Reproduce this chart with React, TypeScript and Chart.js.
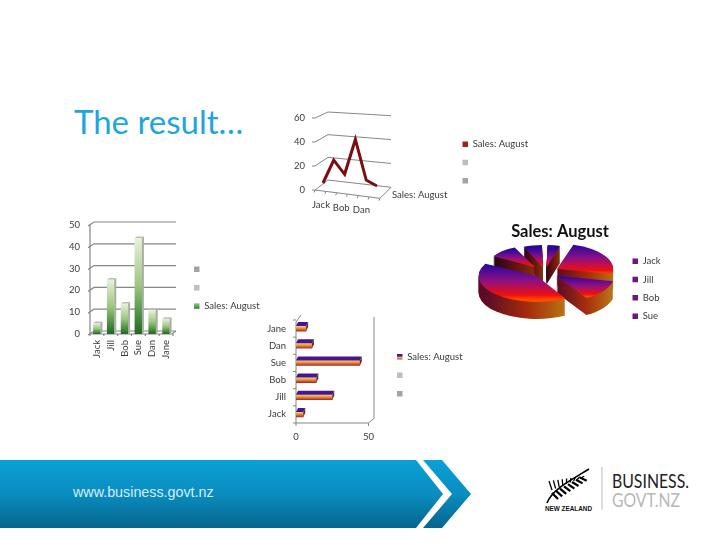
import { useEffect, useRef } from "react"
import { Chart, registerables } from "chart.js"

Chart.register(...registerables)

const PAGE_W = 728
const PAGE_H = 546
const AXIS = 40

// data
const categories = ["Jack", "Jill", "Bob", "Sue", "Dan", "Jane"]
const salesAugust = [5, 25, 14, 44, 11, 7]
const seriesName = "Sales: August"
const pieLegendCount = 4
const pieOffsets = [40, 56, 56, 48, 60, 40]
const pieBackTrim = [9, 3, 1, 1, 11, 9]
const lineTicks = { max: 60, step: 20 }
const columnTicks = { max: 50, step: 10 }
const barTicks = { max: 50, step: 50 }

const FONT = "Lato"
const TEXT = "#3a3a3a"
const FRAME = "#868686"
const GREY_LIGHT = "#bdbdbd"
const GREY_DARK = "#a3a3a3"

const tickFont = { family: FONT, size: 9.5 }

// chart area given in page coordinates, every canvas covers the whole page.
// the axes keep a fixed size so the area lands exactly there
const area = (
  left: number,
  top: number,
  right: number,
  bottom: number,
  axisLeft = true,
  axisBottom = true
) => ({
  left: left - (axisLeft ? AXIS : 0),
  top,
  right: PAGE_W - right,
  bottom: PAGE_H - bottom - (axisBottom ? AXIS : 0),
})

const fixWidth = (s: any) => {
  s.width = AXIS
}
const fixHeight = (s: any) => {
  s.height = AXIS
}

const hiddenLines = {
  grid: { display: false, drawTicks: false },
  border: { display: false },
}

// legend sits at a fixed spot on the page instead of eating the chart area
const legendAt = (x: number, y: number) => ({
  id: "legendAt",
  afterLayout(chart: any) {
    const l = chart.legend
    const pad = l.options.labels.padding
    l.left = x - pad
    l.top = y - pad
    l.right = x + 150
    l.bottom = y + 150
    l.width = l.right - l.left
    l.height = l.bottom - l.top
  },
})

const legendOptions = (padding: number, extra: any = {}) => ({
  position: "chartArea" as const,
  align: "start" as const,
  ...extra,
  labels: {
    boxWidth: 5.5,
    boxHeight: 5.5,
    padding,
    color: TEXT,
    font: tickFont,
    ...(extra.labels || {}),
  },
})

// legend entries from the library, the first one with its own swatch fill
const swatchLabels = (swatch: (ctx: any) => any) => (chart: any) =>
  Chart.defaults.plugins.legend.labels
    .generateLabels(chart)
    .map((item: any) =>
      item.datasetIndex === 0 ? { ...item, fillStyle: swatch(chart.ctx), lineWidth: 0 } : { ...item, lineWidth: 0 }
    )

const line = (ctx: any, pts: number[][]) => {
  ctx.beginPath()
  pts.forEach((p, i) => (i ? ctx.lineTo(p[0], p[1]) : ctx.moveTo(p[0], p[1])))
  ctx.stroke()
}

const quad = (ctx: any, pts: number[][], fill: any) => {
  ctx.fillStyle = fill
  ctx.beginPath()
  pts.forEach((p, i) => (i ? ctx.lineTo(p[0], p[1]) : ctx.moveTo(p[0], p[1])))
  ctx.closePath()
  ctx.fill()
}

const gradient = (ctx: any, top: number, bottom: number, stops: [number, string][]) => {
  const g = ctx.createLinearGradient(0, top, 0, bottom)
  stops.forEach(([at, col]) => g.addColorStop(at, col))
  return g
}

/* ---------- line chart ---------- */

const LINE_SHEAR = 0.1

const lineFrame = {
  id: "lineFrame",
  beforeDatasetsDraw(chart: any) {
    const { ctx, scales, chartArea } = chart
    const { x, y } = scales
    ctx.save()
    ctx.strokeStyle = FRAME
    ctx.lineWidth = 1
    y.ticks.forEach((t: any) => {
      const py = y.getPixelForValue(t.value)
      const k = (py - chartArea.top) / chartArea.height
      const back = py - 6 - 4 * k
      const right = back + 3.7 + 3.6 * k
      line(ctx, [[312, py], [315, py], [328, back], [391, right]])
    })
    const floor = y.getPixelForValue(0)
    line(ctx, [[391, floor - 2.7], [380, floor + 8.3], [315, floor]])
    for (let i = 0; i <= categories.length; i++) {
      const tx = 315 + (i * 65) / categories.length
      const ty = floor + (i * 8.3) / categories.length
      line(ctx, [[tx, ty], [tx - 1, ty + 2.5]])
    }
    ctx.fillStyle = TEXT
    ctx.font = `9.5px ${FONT}`
    ctx.textAlign = "center"
    ctx.textBaseline = "middle"
    categories.forEach((c, i) => {
      if (i % 2) return
      ctx.fillText(c, x.getPixelForValue(i) - 2 - i * 0.7, 205 + i * 1.25)
    })
    ctx.textAlign = "left"
    ctx.fillText(seriesName, 392, 195)
    ctx.restore()

    // points run along the slanted floor
    ctx.save()
    ctx.transform(1, LINE_SHEAR, 0, 1, 0, -LINE_SHEAR * chartArea.left - 1)
  },
  afterDatasetsDraw(chart: any) {
    chart.ctx.restore()
  },
}

const lineConfig = {
  type: "line",
  data: {
    labels: categories,
    datasets: [
      {
        label: seriesName,
        data: salesAugust,
        borderColor: "#7a0d13",
        backgroundColor: "#ad1b1e",
        borderWidth: 3,
        pointRadius: 0,
        tension: 0,
        clip: false,
      },
      { label: "", data: [], backgroundColor: GREY_LIGHT, borderWidth: 0 },
      { label: "", data: [], backgroundColor: GREY_DARK, borderWidth: 0 },
    ],
  },
  options: {
    layout: { padding: area(323, 118, 377, 190, true, false) },
    scales: {
      x: { display: false },
      y: {
        min: 0,
        max: lineTicks.max,
        afterFit: fixWidth,
        ...hiddenLines,
        ticks: { stepSize: lineTicks.step, padding: 18, font: tickFont, color: TEXT },
      },
    },
    plugins: {
      legend: legendOptions(8.7, {
        labels: { generateLabels: swatchLabels(() => "#ad1b1e") },
      }),
    },
  },
  plugins: [lineFrame, legendAt(462.5, 139.5)],
}

/* ---------- column chart ---------- */

const COLUMN_DX = 4
const COLUMN_DY = -3

const columnFill = (c: any) => {
  const scale = c.chart.scales?.y
  if (c.type === "data" && scale && c.parsed) {
    const t = scale.getPixelForValue(c.parsed.y)
    const b = scale.getPixelForValue(0)
    if (Number.isFinite(t) && Number.isFinite(b)) {
      return gradient(c.chart.ctx, t, b, [[0, "#eaf1de"], [0.5, "#9cc57f"], [1, "#1c6b20"]])
    }
  }
  return "#6f9f5c"
}

const columnFrame = {
  id: "columnFrame",
  beforeDatasetsDraw(chart: any) {
    const { ctx, scales, chartArea } = chart
    const { y } = scales
    const { left, right, bottom } = chartArea
    ctx.save()
    ctx.strokeStyle = FRAME
    ctx.lineWidth = 1.2
    y.ticks.forEach((t: any) => {
      const py = y.getPixelForValue(t.value)
      line(ctx, [[left - 2, py + 1], [left + COLUMN_DX, py + COLUMN_DY], [right + 3, py + COLUMN_DY]])
    })
    line(ctx, [[left, chartArea.top], [left, bottom]])
    line(ctx, [[right + 3, bottom + COLUMN_DY], [right - 1, bottom], [left, bottom]])
    const step = (right - left) / categories.length
    for (let i = 0; i <= categories.length; i++) {
      line(ctx, [[left + i * step, bottom], [left + i * step, bottom + 2]])
    }
    ctx.restore()
  },
  afterDatasetsDraw(chart: any) {
    const { ctx } = chart
    ctx.save()
    chart.getDatasetMeta(0).data.forEach((bar: any) => {
      const r = bar.x + bar.width / 2
      const l = bar.x - bar.width / 2
      quad(ctx, [[r, bar.y], [r + 2, bar.y - 1.5], [r + 2, bar.base - 1.5], [r, bar.base]], "#a8b0a2")
      quad(ctx, [[l, bar.y], [l + 2, bar.y - 1.5], [r + 2, bar.y - 1.5], [r, bar.y]], "#b9bdb3")
    })
    ctx.restore()
  },
}

const columnConfig = {
  type: "bar",
  data: {
    labels: categories,
    datasets: [
      {
        label: seriesName,
        data: salesAugust,
        backgroundColor: columnFill,
        borderWidth: 0,
        barThickness: 7,
        grouped: false,
      },
      { label: "", data: [], backgroundColor: GREY_LIGHT, borderWidth: 0, grouped: false },
      { label: "", data: [], backgroundColor: GREY_DARK, borderWidth: 0, grouped: false },
    ],
  },
  options: {
    layout: { padding: area(90, 225, 173, 334) },
    scales: {
      x: {
        afterFit: fixHeight,
        ...hiddenLines,
        ticks: {
          autoSkip: false,
          minRotation: 90,
          maxRotation: 90,
          padding: 6,
          font: tickFont,
          color: TEXT,
        },
      },
      y: {
        min: 0,
        max: columnTicks.max,
        afterFit: fixWidth,
        ...hiddenLines,
        ticks: { stepSize: columnTicks.step, padding: 10, font: tickFont, color: TEXT },
      },
    },
    plugins: {
      legend: legendOptions(8.9, {
        reverse: true,
        labels: {
          generateLabels: swatchLabels((ctx) =>
            gradient(ctx, 303, 309, [[0, "#a9cb90"], [1, "#2a7a2a"]])
          ),
        },
      }),
    },
  },
  plugins: [columnFrame, legendAt(194, 264.5)],
}

/* ---------- horizontal bar chart ---------- */

const barFill = (c: any) => {
  const scale = c.chart.scales?.y
  if (c.type === "data" && scale) {
    const m = scale.getPixelForValue(c.dataIndex)
    if (Number.isFinite(m)) {
      return gradient(c.chart.ctx, m - 2.5, m + 2.5, [[0, "#f6d27a"], [0.5, "#e08a35"], [1, "#b5281f"]])
    }
  }
  return "#e08a35"
}

const barFrame = {
  id: "barFrame",
  beforeDatasetsDraw(chart: any) {
    const { ctx, chartArea } = chart
    const { left, right, bottom, top } = chartArea
    ctx.save()
    ctx.strokeStyle = FRAME
    ctx.lineWidth = 1
    line(ctx, [[left + 5, top - 5], [left, top + 2], [left, bottom], [right, bottom], [right + 5.5, bottom - 4.5], [right + 5.5, top - 3]])
    const step = (bottom - top) / categories.length
    for (let i = 0; i <= categories.length; i++) {
      const py = top + i * step
      line(ctx, [[left - 3, py], [left, py]])
    }
    line(ctx, [[left, bottom], [left, bottom + 3]])
    line(ctx, [[right, bottom], [right, bottom + 3]])
    ctx.restore()
  },
  afterDatasetsDraw(chart: any) {
    const { ctx } = chart
    ctx.save()
    chart.getDatasetMeta(0).data.forEach((bar: any) => {
      const t = bar.y - bar.height / 2
      const b = bar.y + bar.height / 2
      const l = bar.base
      const r = bar.x
      quad(ctx, [[l, t], [l + 2, t - 4], [r + 2, t - 4], [r, t]], "#45178f")
      quad(ctx, [[r, t], [r + 2, t - 4], [r + 2, b - 4], [r, b]], "#6e2a2a")
    })
    ctx.restore()
  },
}

const barConfig = {
  type: "bar",
  data: {
    labels: categories,
    datasets: [
      {
        label: seriesName,
        data: salesAugust,
        backgroundColor: barFill,
        borderWidth: 0,
        barThickness: 5,
        grouped: false,
      },
      { label: "", data: [], backgroundColor: GREY_LIGHT, borderWidth: 0, grouped: false },
      { label: "", data: [], backgroundColor: GREY_DARK, borderWidth: 0, grouped: false },
    ],
  },
  options: {
    indexAxis: "y",
    layout: { padding: area(296, 320, 368.5, 423) },
    scales: {
      x: {
        min: 0,
        max: barTicks.max,
        afterFit: fixHeight,
        ...hiddenLines,
        ticks: { stepSize: barTicks.step, padding: 8, font: tickFont, color: TEXT },
      },
      y: {
        reverse: true,
        afterFit: fixWidth,
        ...hiddenLines,
        ticks: { autoSkip: false, padding: 10, font: tickFont, color: TEXT },
      },
    },
    plugins: {
      legend: legendOptions(9, {
        labels: {
          generateLabels: swatchLabels((ctx) =>
            gradient(ctx, 354, 360, [[0, "#45178f"], [0.35, "#45178f"], [0.55, "#f0c060"], [1, "#b5281f"]])
          ),
        },
      }),
    },
  },
  plugins: [barFrame, legendAt(397, 352)],
}

/* ---------- exploded 3D pie ---------- */

const PIE_X = 545
const PIE_Y = 272
const PIE_SQUASH = 0.45
const PIE_DEPTH = 17

const squash = (ctx: any, arc: any, drop: number) => {
  ctx.translate(PIE_X, PIE_Y + drop)
  ctx.scale(1, PIE_SQUASH)
  ctx.translate(-arc.x, -arc.y)
}

// y range of one slice, before the squash
const sliceRange = (arc: any) => {
  const { x, y, startAngle, endAngle, outerRadius: r } = arc
  const xs = [x, x + r * Math.cos(startAngle), x + r * Math.cos(endAngle)]
  const ys = [y, y + r * Math.sin(startAngle), y + r * Math.sin(endAngle)]
  const has = (a: number) =>
    [a - 2 * Math.PI, a, a + 2 * Math.PI].some((v) => v >= startAngle && v <= endAngle)
  if (has(Math.PI / 2)) ys.push(y + r)
  if (has(-Math.PI / 2)) ys.push(y - r)
  if (has(0)) xs.push(x + r)
  if (has(Math.PI)) xs.push(x - r)
  return { x0: Math.min(...xs), x1: Math.max(...xs), y0: Math.min(...ys), y1: Math.max(...ys) }
}

const midSin = (arc: any) => Math.sin((arc.startAngle + arc.endAngle) / 2)

const pieFaces = {
  id: "pieFaces",
  afterDatasetsUpdate(chart: any) {
    // the arc element grows exploded slices, take that back and make the far slices smaller
    chart.getDatasetMeta(0).data.forEach((arc: any, i: number) => {
      const fix = 1 - Math.sin(Math.min(Math.PI, arc.circumference))
      arc.outerRadius -= (pieOffsets[i] / 4) * fix + pieBackTrim[i]
    })
  },
  beforeDatasetsDraw(chart: any) {
    const { ctx } = chart
    const arcs = chart.getDatasetMeta(0).data
    if (!arcs.length) return
    const order = [...arcs].sort((a: any, b: any) => midSin(a) - midSin(b))
    order.forEach((arc: any) => {
      const { x0, x1 } = sliceRange(arc)
      const far = midSin(arc) < -0.6
      const g = ctx.createLinearGradient(x0, 0, x1, 0)
      g.addColorStop(0, far ? "#300616" : "#5c0a26")
      g.addColorStop(0.55, far ? "#6b1410" : "#a52c0c")
      g.addColorStop(1, far ? "#80300c" : "#b86e12")
      const own = arc.options
      arc.options = { ...own, backgroundColor: g }
      for (let d = PIE_DEPTH; d > 0; d--) {
        ctx.save()
        squash(ctx, arc, d)
        arc.draw(ctx)
        ctx.restore()
      }
      arc.options = own
    })
    arcs.forEach((arc: any) => {
      const { y0, y1 } = sliceRange(arc)
      const g = gradient(ctx, y0, y1, [
        [0, "#28089a"],
        [0.45, "#8a0f86"],
        [0.88, "#f00f12"],
        [1, "#ff4a00"],
      ])
      arc.options = { ...arc.options, backgroundColor: g }
    })
    ctx.save()
    squash(ctx, arcs[0], 0)
  },
  afterDatasetsDraw(chart: any) {
    if (chart.getDatasetMeta(0).data.length) chart.ctx.restore()
  },
}

const pieConfig = {
  type: "pie",
  data: {
    labels: categories,
    datasets: [
      {
        label: seriesName,
        data: salesAugust,
        backgroundColor: "#6f1486",
        borderWidth: 0,
        offset: pieOffsets,
      },
    ],
  },
  options: {
    radius: 59,
    layout: { padding: area(460, 221, 660, 340, false, false) },
    plugins: {
      title: {
        display: true,
        text: seriesName,
        color: "#111",
        font: { family: FONT, size: 16.5, weight: "bold" },
        padding: { top: 1, bottom: 2 },
      },
      legend: legendOptions(8.8, {
        labels: { filter: (item: any) => item.index < pieLegendCount },
      }),
    },
  },
  plugins: [pieFaces, legendAt(632.5, 256.5)],
}

/* ---------- page ---------- */

function SlideChart({ config }: { config: any }) {
  const chartRef = useRef<HTMLCanvasElement | null>(null)

  useEffect(() => {
    if (!chartRef.current) return
    const chart = new Chart(chartRef.current, {
      ...config,
      options: {
        ...config.options,
        animation: false,
        responsive: false,
        events: [],
        plugins: { tooltip: { enabled: false }, ...config.options.plugins },
      },
    })
    return () => chart.destroy()
  }, [config])

  return (
    <canvas
      ref={chartRef}
      width={PAGE_W}
      height={PAGE_H}
      style={{ position: "absolute", left: 0, top: 0, width: PAGE_W, height: PAGE_H }}
    />
  )
}

const upperLeaflets = [0, 1, 2, 3, 4, 5, 6, 7, 8]
const lowerLeaflets = [0, 1, 2, 3, 4, 5, 6, 7]

function Backdrop() {
  return (
    <svg
      width={PAGE_W}
      height={PAGE_H}
      style={{ position: "absolute", left: 0, top: 0 }}
      xmlns="http://www.w3.org/2000/svg"
    >
      <defs>
        <linearGradient id="band" x1="0" y1="0" x2="0" y2="1">
          <stop offset="0" stopColor="#0aa0d8" />
          <stop offset="0.5" stopColor="#0a8dbf" />
          <stop offset="1" stopColor="#05658d" />
        </linearGradient>
      </defs>
      <text x={74} y={134} fontFamily={FONT} fontSize={33} fill="#1ea6dc">
        The result…
      </text>
      <polygon points="0,460 416,460 443,494 416,528 0,528" fill="url(#band)" />
      <polygon points="423,460 442,460 471,494 442,528 423,528 452,494" fill="url(#band)" />
      <text x={73} y={497} fontFamily="Liberation Sans" fontSize={14.3} fill="#d5edf7">
        www.business.govt.nz
      </text>
      <path d="M547 503 C552 490 566 483 589 469" stroke="#000" strokeWidth={1.6} fill="none" />
      {upperLeaflets.map((i) => (
        <line
          key={i}
          x1={552 + i * 3.6}
          y1={490 - i * 1.5}
          x2={549 + i * 4.4}
          y2={481 - i * 0.6}
          stroke="#000"
          strokeWidth={1.3}
        />
      ))}
      {lowerLeaflets.map((i) => (
        <line
          key={i}
          x1={552 + i * 4}
          y1={493 - i * 2.2}
          x2={558 + i * 4.1}
          y2={499 - i * 2.6}
          stroke="#000"
          strokeWidth={2.2}
        />
      ))}
      <text x={545} y={511} fontFamily="Liberation Sans" fontWeight="bold" fontSize={6.5} fill="#111" textLength={47} lengthAdjust="spacingAndGlyphs">
        NEW ZEALAND
      </text>
      <line x1={602} y1={467} x2={602} y2={510} stroke="#bbb" strokeWidth={1} />
      <text x={612} y={488} fontFamily={FONT} fontSize={20} fill="#222" textLength={77} lengthAdjust="spacingAndGlyphs">
        BUSINESS.
      </text>
      <text x={612} y={507} fontFamily={FONT} fontSize={20} fill="#b8b8b8" textLength={68} lengthAdjust="spacingAndGlyphs">
        GOVT.NZ
      </text>
    </svg>
  )
}

export default function App() {
  useEffect(() => {
    document.body.style.margin = "0"
  }, [])

  return (
    <div style={{ position: "relative", width: PAGE_W, height: PAGE_H, overflow: "hidden", background: "#fff" }}>
      <Backdrop />
      <SlideChart config={lineConfig} />
      <SlideChart config={columnConfig} />
      <SlideChart config={barConfig} />
      <SlideChart config={pieConfig} />
    </div>
  )
}
